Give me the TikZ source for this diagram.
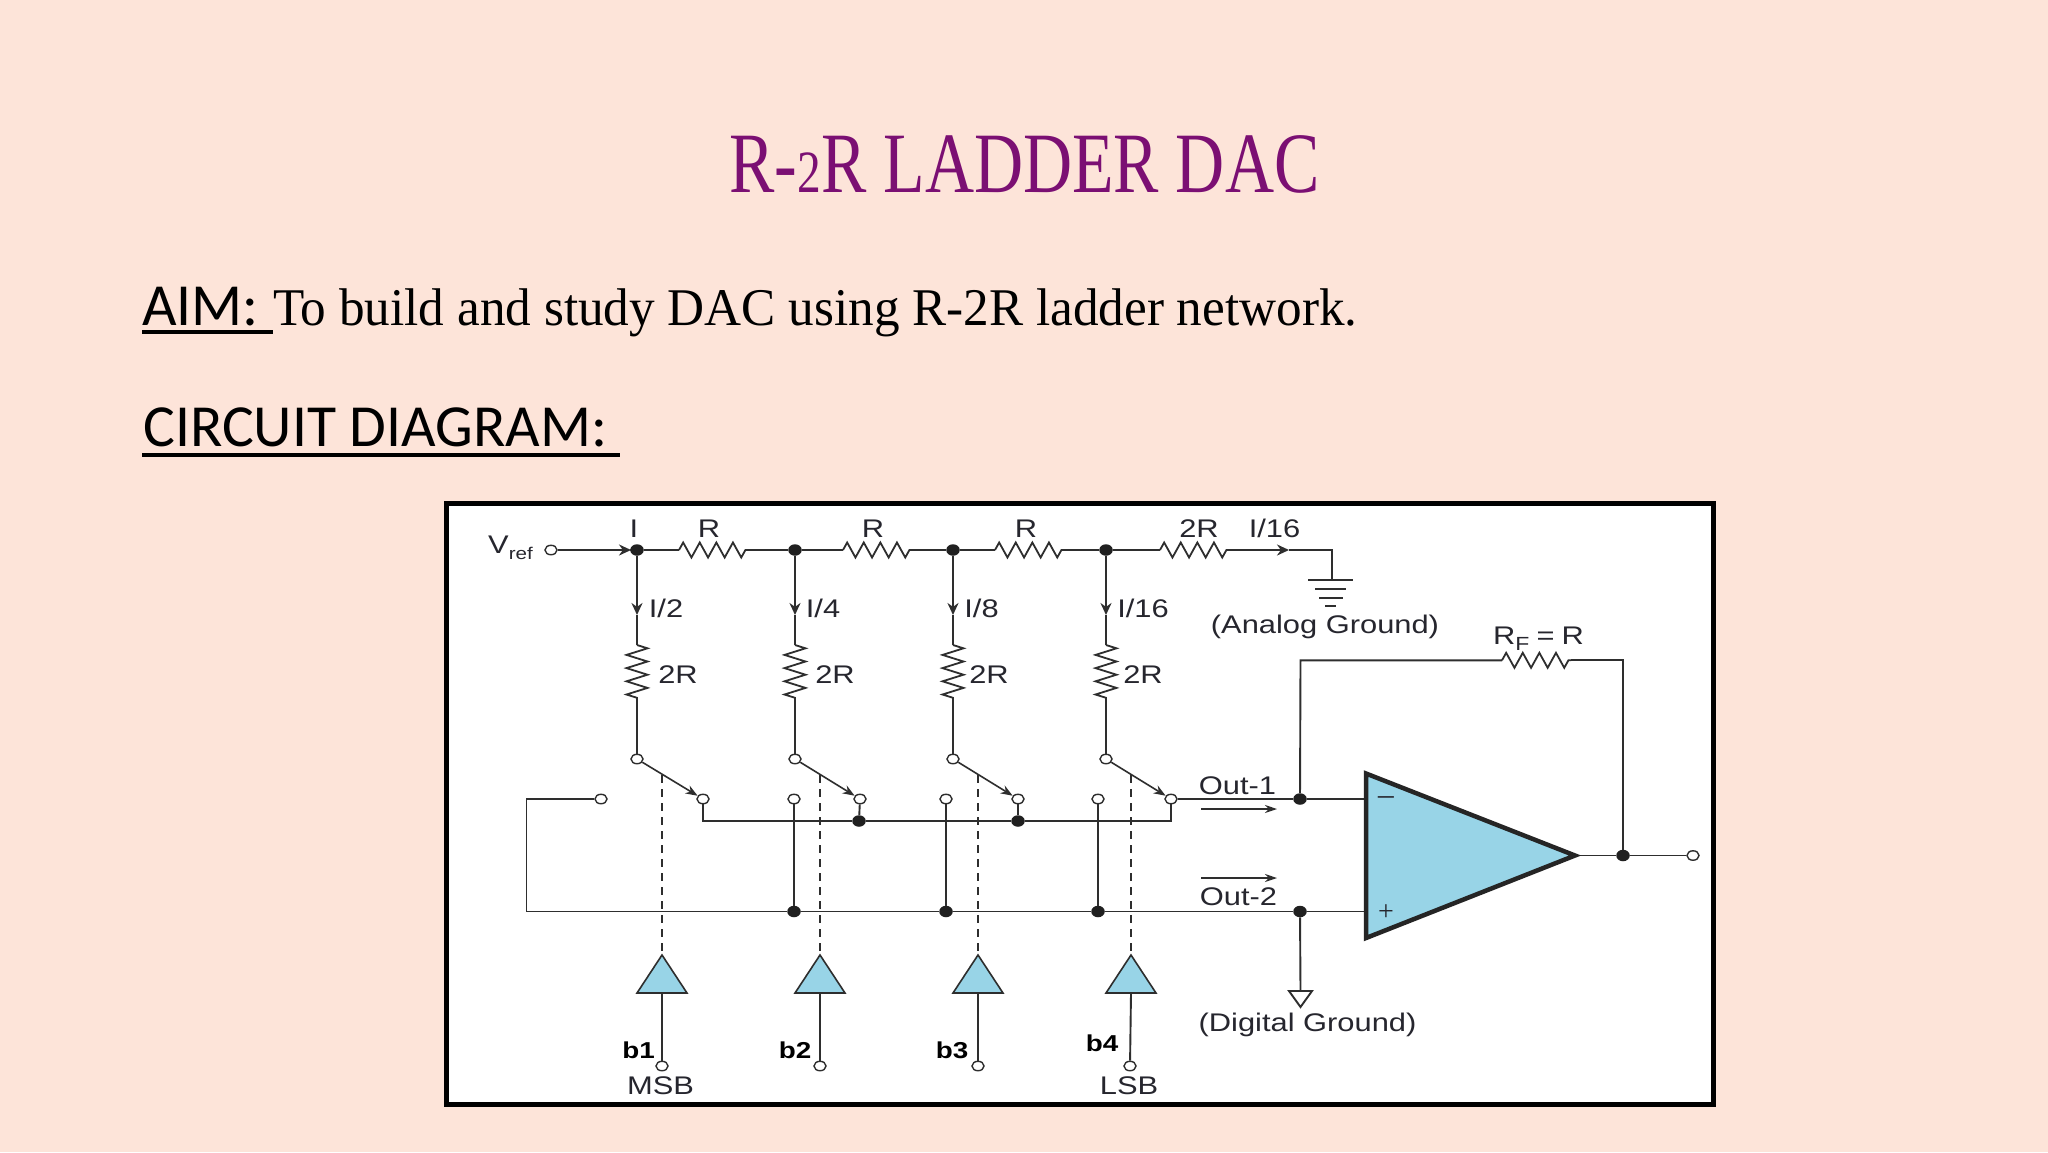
\documentclass[tikz,border=0pt]{standalone}
\usepackage{fontspec}
\usetikzlibrary{arrows.meta,decorations.pathmorphing,shapes.geometric}
\setmainfont{Liberation Serif}
\newfontfamily\diaf[FakeStretch=1.21]{Liberation Sans}
\newfontfamily\calf{Carlito}
\newfontfamily\ttlf[FakeStretch=0.79]{Liberation Serif}
\newfontfamily\aimf[FakeStretch=0.966]{Liberation Serif}
\definecolor{pagebg}{HTML}{FDE4D9}
\definecolor{titlec}{HTML}{7B0F73}
\definecolor{wirec}{HTML}{2E2E2E}
\definecolor{txtc}{HTML}{26262E}
\definecolor{opblue}{HTML}{98D4E7}
\tikzset{
  wire/.style={draw=wirec,line width=1.9pt},
  zig/.style={wire,line width=1.8pt,line join=miter,decorate,decoration={zigzag,amplitude=7.5pt,segment length=16.6pt}},
  flow/.style={wire,-{Stealth[length=12pt,width=11pt]}},
  thin flow/.style={wire,line width=1.5pt,-{Stealth[length=12pt,width=8pt]}},
  jdot/.style={ellipse,fill=wirec!70!black,minimum width=13.5pt,minimum height=11.5pt,inner sep=0pt},
  term/.style={ellipse,draw=wirec,fill=white,line width=1.4pt,minimum width=12pt,minimum height=9.5pt,inner sep=0pt},
  lab/.style={anchor=base,inner sep=0pt,text=txtc,font=\diaf\fontsize{25.5}{25.5}\selectfont},
  blab/.style={anchor=base,inner sep=0pt,text=black,font=\diaf\bfseries\fontsize{23}{23}\selectfont},
  dash line/.style={draw=wirec,line width=1.8pt,dash pattern=on 8pt off 6pt},
  buf/.style={draw=wirec,line width=1.6pt,fill=opblue,line join=miter},
  gline/.style={draw=wirec,line width=1.6pt},
}
\begin{document}
\begin{tikzpicture}[x=1pt,y=-1pt]
\useasboundingbox (0,0) rectangle (2048,1152);
\fill[pagebg] (0,0) rectangle (2048,1152);
% headings
\node[anchor=base,inner sep=0pt,text=titlec,font=\ttlf\fontsize{86}{86}\selectfont] (title) at (1024.5,192) {R-{\fontsize{60}{60}\selectfont 2}R LADDER DAC};
\node[anchor=base west,inner sep=0pt,font=\calf\fontsize{59.7}{59.7}\selectfont] (aim) at (142,325) {AIM:};
\node[anchor=base west,inner sep=0pt,font=\aimf\fontsize{53}{53}\selectfont] (aimtext) at (273,325) {To build and study DAC using R-2R ladder network.};
\node[anchor=base west,inner sep=0pt,font=\calf\fontsize{59.7}{59.7}\selectfont] (cd) at (143,446) {CIRCUIT DIAGRAM:};
\coordinate (aimu1) at (142,332); \coordinate (aimu2) at (273,332);
\coordinate (cdu1) at (142,455); \coordinate (cdu2) at (620,455);
\draw[line width=4pt,black] (aimu1) -- (aimu2);
\draw[line width=4pt,black] (cdu1) -- (cdu2);
% frame
\draw[fill=white,draw=black,line width=5pt,line join=miter] (446.5,503) rectangle (1713.5,1104);
% terminals
\node[term] (vref) at (551,550) {};
\node[term] (s1) at (637,759) {};
\node[term] (s2) at (795,759) {};
\node[term] (s3) at (953,759) {};
\node[term] (s4) at (1106,759) {};
\node[term] (c1) at (703,799) {};
\node[term] (c2) at (860,799) {};
\node[term] (c3) at (1018,799) {};
\node[term] (c4) at (1171,799) {};
\node[term] (o0) at (601,799) {};
\node[term] (o1) at (794,799) {};
\node[term] (o2) at (946,799) {};
\node[term] (o3) at (1098,799) {};
\node[term] (vout) at (1693,855.5) {};
\node[term] (b1t) at (662,1066) {};
\node[term] (b2t) at (820,1066) {};
\node[term] (b3t) at (978,1066) {};
\node[term] (b4t) at (1130,1066) {};
% junctions
\node[jdot] (j1) at (637,550) {};
\node[jdot] (j2) at (795,550) {};
\node[jdot] (j3) at (953,550) {};
\node[jdot] (j4) at (1106,550) {};
\node[jdot] (u2) at (859,821) {};
\node[jdot] (u3) at (1018,821) {};
\node[jdot] (l1) at (794,911.5) {};
\node[jdot] (l2) at (946,911.5) {};
\node[jdot] (l3) at (1098,911.5) {};
\node[jdot] (inm) at (1300,799) {};
\node[jdot] (inp) at (1300,911.5) {};
\node[jdot] (fb) at (1623,855.5) {};
% top rail
\coordinate (a0) at (631,550);
\draw[flow] (vref) -- (a0);
\draw[wire] (a0) -- (j1);
\foreach \n/\ax/\bx/\p/\q in {1/679/746/j1/j2, 2/843/910/j2/j3, 3/995/1063/j3/j4}{
  \coordinate (ra\n) at (\ax,550); \coordinate (rb\n) at (\bx,550);
  \draw[wire] (\p) -- (ra\n);
  \draw[zig] (ra\n) -- (rb\n);
  \draw[wire] (rb\n) -- (\q);
}
\coordinate (ra4) at (1160,550); \coordinate (rb4) at (1228,550);
\coordinate (a5) at (1289,550); \coordinate (gnd) at (1332,550); \coordinate (gnd0) at (1332,580);
\draw[wire] (j4) -- (ra4);
\draw[zig] (ra4) -- (rb4);
\draw[flow] (rb4) -- (a5);
\draw[wire] (a5) -- (gnd) -- (gnd0);
% analog ground
\coordinate (ga1) at (1308,580); \coordinate (ga2) at (1353,580);
\coordinate (gb1) at (1315,589); \coordinate (gb2) at (1346,589);
\coordinate (gc1) at (1319,598); \coordinate (gc2) at (1343,598);
\coordinate (gd1) at (1325,606); \coordinate (gd2) at (1336,606);
\draw[gline] (ga1) -- (ga2);
\draw[gline] (gb1) -- (gb2);
\draw[gline] (gc1) -- (gc2);
\draw[gline] (gd1) -- (gd2);
% branches
\foreach \n/\x/\jj/\ss/\cc in {1/637/j1/s1/c1, 2/795/j2/s2/c2, 3/953/j3/s3/c3, 4/1106/j4/s4/c4}{
  \coordinate (ba\n) at (\x,615);
  \coordinate (va\n) at (\x,645);
  \coordinate (vb\n) at (\x,698);
  \draw[flow] (\jj) -- (ba\n);
  \draw[wire] (ba\n) -- (va\n);
  \draw[zig,decoration={zigzag,amplitude=10.5pt,segment length=13.2pt}] (va\n) -- (vb\n);
  \draw[wire] (vb\n) -- (\ss);
  \draw[wire,line width=1.6pt,-{Stealth[length=12pt,width=9pt]}] (\ss) -- (\cc);
}
% bus and contacts
\coordinate (bus0) at (703,821); \coordinate (bus1) at (1171,821);
\draw[wire] (c1) -- (bus0) -- (u2) -- (u3) -- (bus1) -- (c4);
\draw[wire] (c2) -- (u2);
\draw[wire] (c3) -- (u3);
\draw[wire] (c4) -- (inm);
\coordinate (opM) at (1366,799); \coordinate (opP) at (1366,911.5);
\draw[wire] (inm) -- (opM);
% lower rail
\coordinate (rl0) at (526.5,799); \coordinate (rl1) at (526.5,911.5);
\draw[wire] (o0) -- (rl0) -- (rl1) -- (l1) -- (l2) -- (l3) -- (inp) -- (opP);
\draw[wire] (o1) -- (l1);
\draw[wire] (o2) -- (l2);
\draw[wire] (o3) -- (l3);
% feedback
\coordinate (f0) at (1300.5,660.3); \coordinate (fa) at (1502,660.3); \coordinate (fbb) at (1571,660.3); \coordinate (f1) at (1623,660.3);
\draw[wire] (inm) -- (f0) -- (fa);
\draw[zig] (fa) -- (fbb);
\draw[wire] (fbb) -- (f1) -- (fb);
% op amp
\coordinate (opT) at (1366,773.5); \coordinate (opB) at (1366,938); \coordinate (opO) at (1575,855.5);
\draw[wire] (opO) -- (fb) -- (vout);
\draw[draw=wirec!80!black,line width=4.5pt,fill=opblue,line join=miter] (opT) -- (opO) -- (opB) -- cycle;
\node[lab,font=\diaf\fontsize{24}{24}\selectfont,anchor=center] (minus) at (1386,800) {–};
\node[lab,font=\fontsize{28}{28}\selectfont,anchor=center] (plus) at (1386,912.5) {+};
% digital ground
\coordinate (dg) at (1300.5,991);
\coordinate (dg1) at (1289,991); \coordinate (dg2) at (1312,991); \coordinate (dg3) at (1300.5,1007);
\draw[wire] (inp) -- (dg);
\draw[wire,fill=white,line join=miter] (dg1) -- (dg2) -- (dg3) -- cycle;
% bit buffers
\foreach \n/\x/\t/\ss/\cc in {1/662/b1t/s1/c1, 2/820/b2t/s2/c2, 3/978/b3t/s3/c3, 4/1131/b4t/s4/c4}{
  \coordinate (ta\n) at (\x,955);
  \coordinate (tl\n) at (\x-25,993);
  \coordinate (tr\n) at (\x+25,993);
  \coordinate (tb\n) at (\x,993);
  \coordinate (dt\n) at (\x,775);
  \draw[dash line] (dt\n) -- (ta\n);
  \draw[buf] (ta\n) -- (tl\n) -- (tr\n) -- cycle;
  \draw[wire] (tb\n) -- (\t);
}
% output arrows
\coordinate (ar1) at (1201,809); \coordinate (ar2) at (1277,809);
\coordinate (ar3) at (1201,878); \coordinate (ar4) at (1277,878);
\draw[thin flow] (ar1) -- (ar2);
\draw[thin flow] (ar3) -- (ar4);
% labels
\node[lab,anchor=base west] (lvref) at (488,553) {V\raisebox{-6.5pt}{\fontsize{17}{17}\selectfont ref}};
\node[lab] (lI) at (634,537) {I};
\node[lab] (lR1) at (709,537) {R};
\node[lab] (lR2) at (873,537) {R};
\node[lab] (lR3) at (1026,537) {R};
\node[lab] (lR4) at (1199,537) {2R};
\node[lab] (lI16a) at (1274.5,537) {I/16};
\node[lab] (li2) at (666,617) {I/2};
\node[lab] (li4) at (823,617) {I/4};
\node[lab] (li8) at (981.5,617) {I/8};
\node[lab] (li16) at (1143,617) {I/16};
\node[lab] (l2r1) at (678,683) {2R};
\node[lab] (l2r2) at (835,683) {2R};
\node[lab] (l2r3) at (989,683) {2R};
\node[lab] (l2r4) at (1143,683) {2R};
\node[lab] (lag) at (1325,633) {(Analog Ground)};
\node[lab] (lrf) at (1538.5,644.5) {R\raisebox{-6pt}{\fontsize{19}{19}\selectfont F}\;=\;R};
\node[lab] (lo1) at (1237.5,794) {Out-1};
\node[lab] (lo2) at (1238.5,905) {Out-2};
\node[lab] (ldg) at (1307.5,1031.5) {(Digital Ground)};
\node[blab] (lb1) at (638.5,1058) {b1};
\node[blab] (lb2) at (795,1058) {b2};
\node[blab] (lb3) at (952,1058) {b3};
\node[blab] (lb4) at (1102,1051.5) {b4};
\node[lab] (lmsb) at (660.5,1094) {MSB};
\node[lab] (llsb) at (1129,1094) {LSB};
\end{tikzpicture}
\end{document}
